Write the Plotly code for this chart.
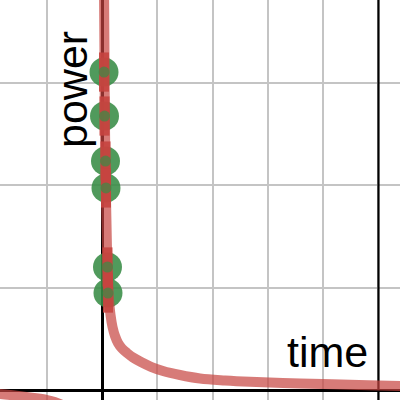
import plotly.graph_objects as go

# Curve (right branch), in grid units
curve_x = [0.0362, 0.0452, 0.0542, 0.0723, 0.0904, 0.1085, 0.1266, 0.1537, 0.1899,
           0.2351, 0.2893, 0.3617, 0.4521, 0.5606, 0.7052, 0.8861, 1.1031, 1.4105,
           1.7722, 2.2242, 2.6763, 3.5805, 4.4846, 5.3888, 5.5696]
curve_y = [3.902, 3.220, 2.537, 1.854, 1.366, 1.073, 0.878, 0.732, 0.615,
           0.527, 0.459, 0.405, 0.361, 0.317, 0.273, 0.2263, 0.1854, 0.1463,
           0.1122, 0.0927, 0.0800, 0.0644, 0.0507, 0.0390, 0.0361]

# Curve (left branch)
left_x = [-2.025, -1.844, -1.302, -0.995, -0.760, -0.500, -0.250]
left_y = [-0.034, -0.039, -0.073, -0.098, -0.137, -0.230, -0.600]

# Points
pts_x = [0.036, 0.045, 0.063, 0.072, 0.099, 0.108]
pts_y = [3.102, 2.673, 2.234, 1.971, 1.200, 0.946]

# Vertical marker line
vline_x = [5, 5]
vline_y = [-1, 5]

x_range = [-1.845, 5.389]
y_range = [-0.0976, 3.805]

RED = "#c74440"
GREEN = "#388c46"

fig = go.Figure()

fig.add_trace(go.Scatter(x=vline_x, y=vline_y, mode="lines",
                         line=dict(color="black", width=2.2), hoverinfo="skip"))

# big green dots (under the curve)
fig.add_trace(go.Scatter(x=pts_x, y=pts_y, mode="markers",
                         marker=dict(size=29, color=GREEN, opacity=0.88, line=dict(width=0)),
                         hoverinfo="skip"))

fig.add_trace(go.Scatter(x=curve_x, y=curve_y, mode="lines", opacity=0.7,
                         line=dict(color=RED, width=10, shape="spline", smoothing=1.0),
                         hoverinfo="skip"))
fig.add_trace(go.Scatter(x=left_x, y=left_y, mode="lines", opacity=0.7,
                         line=dict(color=RED, width=10, shape="spline", smoothing=1.0),
                         hoverinfo="skip"))

# red bar inside each dot
fig.add_trace(go.Scatter(x=pts_x, y=pts_y, mode="markers",
                         marker=dict(symbol="line-ns", size=28,
                                     line=dict(color=RED, width=10), opacity=0.9),
                         hoverinfo="skip"))
# inner green core
fig.add_trace(go.Scatter(x=pts_x, y=pts_y, mode="markers",
                         marker=dict(size=11, color=GREEN, opacity=0.7, line=dict(width=0)),
                         hoverinfo="skip"))

axis_common = dict(showticklabels=False, ticks="", showline=False,
                   showgrid=True, gridcolor="#c4c4c4", gridwidth=2,
                   zeroline=True, zerolinecolor="black", zerolinewidth=3,
                   dtick=1, tick0=0)

fig.update_xaxes(range=x_range, **axis_common)
fig.update_yaxes(range=y_range, **axis_common)

fig.add_annotation(text="power", xref="paper", yref="paper",
                   x=72 / 400, y=1 - 90 / 400, xanchor="center", yanchor="middle",
                   textangle=-90, showarrow=False,
                   font=dict(family="Liberation Sans, Arial, sans-serif", size=43, color="black"))
fig.add_annotation(text="time", xref="paper", yref="paper",
                   x=327 / 400, y=1 - 352 / 400, xanchor="center", yanchor="middle",
                   showarrow=False,
                   font=dict(family="Liberation Sans, Arial, sans-serif", size=43, color="black"))

fig.update_layout(width=400, height=400, margin=dict(l=0, r=0, t=0, b=0),
                  plot_bgcolor="white", paper_bgcolor="white", showlegend=False,
                  hovermode=False)

fig.write_html("out.html", config={"displayModeBar": False},
               post_script="document.body.style.margin='0';document.body.style.padding='0';"
                           "document.documentElement.style.overflow='hidden';")
